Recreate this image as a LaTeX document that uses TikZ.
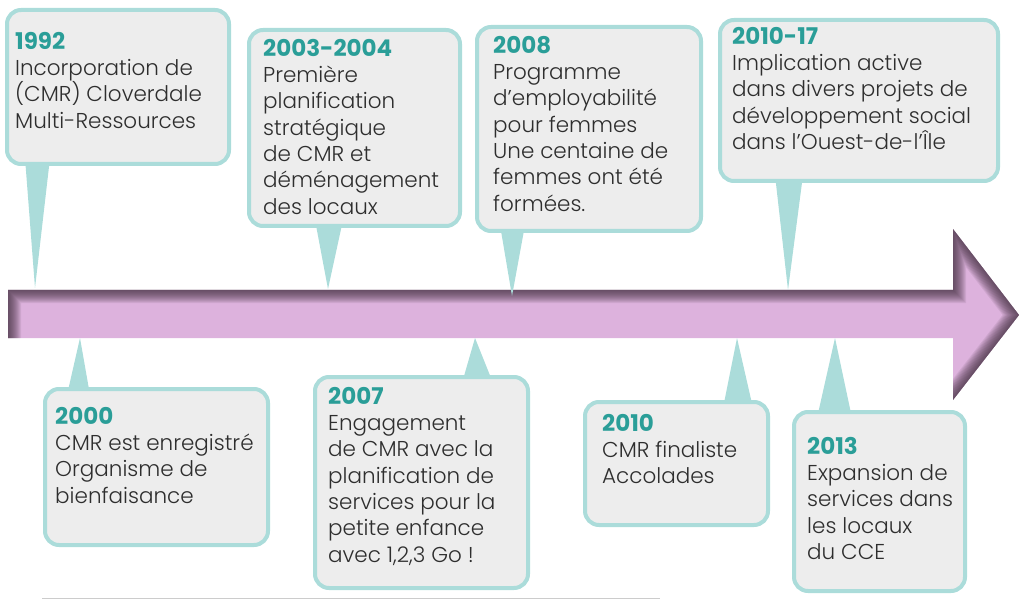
\documentclass[tikz,border=0pt]{standalone}
\usepackage{fontspec}
\setmainfont{Poppins}[UprightFont={* Light}, BoldFont={* Bold}]
\usetikzlibrary{positioning,calc,backgrounds}

\definecolor{evfill}{HTML}{EDEDED}
\definecolor{evborder}{HTML}{ABDCDA}
\definecolor{evteal}{HTML}{2A9E98}
\definecolor{evgrey}{HTML}{2E2E2E}
\definecolor{shaftpink}{HTML}{DDB2DD}
\definecolor{shaftdark}{HTML}{3E2B3B}
\newcommand{\yearlabel}[1]{{\fontsize{23}{26}\selectfont\bfseries\color{evteal}#1}}

\begin{document}
\begin{tikzpicture}[x=1pt,y=-1pt,
    event/.style={rectangle, rounded corners=14pt, draw=evborder, line width=4pt, fill=evfill, anchor=north west, inner sep=0pt},
    evtext/.style={align=left, inner sep=0pt, text=evgrey, font=\fontsize{21.5}{26.3}\selectfont},
    pointer/.style={fill=evborder}]
    \useasboundingbox (0,0) rectangle (1024,601);

    %top row
    \node[event, minimum width=222, minimum height=154] (box1992) at (5,8) {};
    \node[evtext] (txt1992) [below right=24pt and 10pt of box1992.north west] {\yearlabel{1992}\\Incorporation de\\(CMR) Cloverdale\\Multi-Ressources};

    \node[event, minimum width=211, minimum height=196] (box2003) at (247,28) {};
    \node[evtext] (txt2003) [below right=11pt and 16pt of box2003.north west] {\yearlabel{2003-2004}\\Première\\planification\\stratégique\\de CMR et\\déménagement\\des locaux};

    \node[event, minimum width=224, minimum height=204] (box2008) at (475,25) {};
    \node[evtext] (txt2008) [below right=11pt and 18pt of box2008.north west] {\yearlabel{2008}\\Programme\\d’employabilité\\pour femmes\\Une centaine de\\femmes ont été\\formées.};

    \node[event, minimum width=278, minimum height=161] (box2010-17) at (718,18) {};
    \node[evtext] (txt2010-17) [below right=9pt and 14pt of box2010-17.north west] {\yearlabel{2010-17}\\Implication active\\dans divers projets de\\développement social\\dans l’Ouest-de-l’Île};

    %bottom row
    \node[event, minimum width=223, minimum height=156] (box2000) at (43,387) {};
    \node[evtext] (txt2000) [below right=20pt and 12pt of box2000.north west] {\yearlabel{2000}\\CMR est enregistré\\Organisme de\\bienfaisance};

    \node[event, minimum width=213, minimum height=211] (box2007) at (313,375) {};
    \node[evtext] (txt2007) [below right=12pt and 15pt of box2007.north west] {\yearlabel{2007}\\Engagement\\de CMR avec la\\planification de\\services pour la\\petite enfance\\avec 1,2,3 Go !};

    \node[event, minimum width=183, minimum height=123] (box2010) at (583,400) {};
    \node[evtext] (txt2010) [below right=14pt and 19pt of box2010.north west] {\yearlabel{2010}\\CMR finaliste\\Accolades};

    \node[event, minimum width=171, minimum height=179] (box2013) at (792,410) {};
    \node[evtext] (txt2013) [below right=27pt and 15pt of box2013.north west] {\yearlabel{2013}\\Expansion de\\services dans\\les locaux\\du CCE};

    %where the pointers meet the arrow
    \coordinate (tip1992) at (35,288);
    \coordinate (tip2003) at (328,289);
    \coordinate (tip2008) at (512,296);
    \coordinate (tip2010-17) at (788,290);
    \coordinate (tip2000) at (80,338);
    \coordinate (tip2007) at (475,338);
    \coordinate (tip2010) at (737,338);
    \coordinate (tip2013) at (835,338);

    \begin{scope}[on background layer]
      %time arrow
      \fill[shaftpink] (8,290) -- (953,290) -- (953,229) -- (1019,315) -- (953,400) -- (953,338) -- (8,338) -- cycle;
      \begin{scope}
        \clip (8,290) -- (953,290) -- (953,229) -- (1019,315) -- (953,400) -- (953,338) -- (8,338) -- cycle;
        \foreach \w in {2,4,...,26}
          \draw[shaftdark, line width=\w pt, opacity=0.09, line join=miter] (8,342) -- (8,290) -- (953,290) -- (953,229) -- (1019,315) -- (953,400);
      \end{scope}
      %pointers
      \fill[pointer] ($(box1992.south west)+(20,-8)$) -- (tip1992) -- ($(box1992.south west)+(45,-8)$) -- cycle;
      \fill[pointer] ($(box2003.south west)+(68,-8)$) -- (tip2003) -- ($(box2003.south west)+(96,-8)$) -- cycle;
      \fill[pointer] ($(box2008.south west)+(25,-8)$) -- (tip2008) -- ($(box2008.south west)+(50,-8)$) -- cycle;
      \fill[pointer] ($(box2010-17.south west)+(57,-8)$) -- (tip2010-17) -- ($(box2010-17.south west)+(85,-8)$) -- cycle;
      \fill[pointer] ($(box2000.north west)+(24,8)$) -- (tip2000) -- ($(box2000.north west)+(47,8)$) -- cycle;
      \fill[pointer] ($(box2007.north west)+(149,8)$) -- (tip2007) -- ($(box2007.north west)+(180,8)$) -- cycle;
      \fill[pointer] ($(box2010.north west)+(140,8)$) -- (tip2010) -- ($(box2010.north west)+(170,8)$) -- cycle;
      \fill[pointer] ($(box2013.north west)+(25,8)$) -- (tip2013) -- ($(box2013.north west)+(60,8)$) -- cycle;
    \end{scope}

    \draw[black!20, line width=1pt] (42,598) -- (660,598);
\end{tikzpicture}
\end{document}
